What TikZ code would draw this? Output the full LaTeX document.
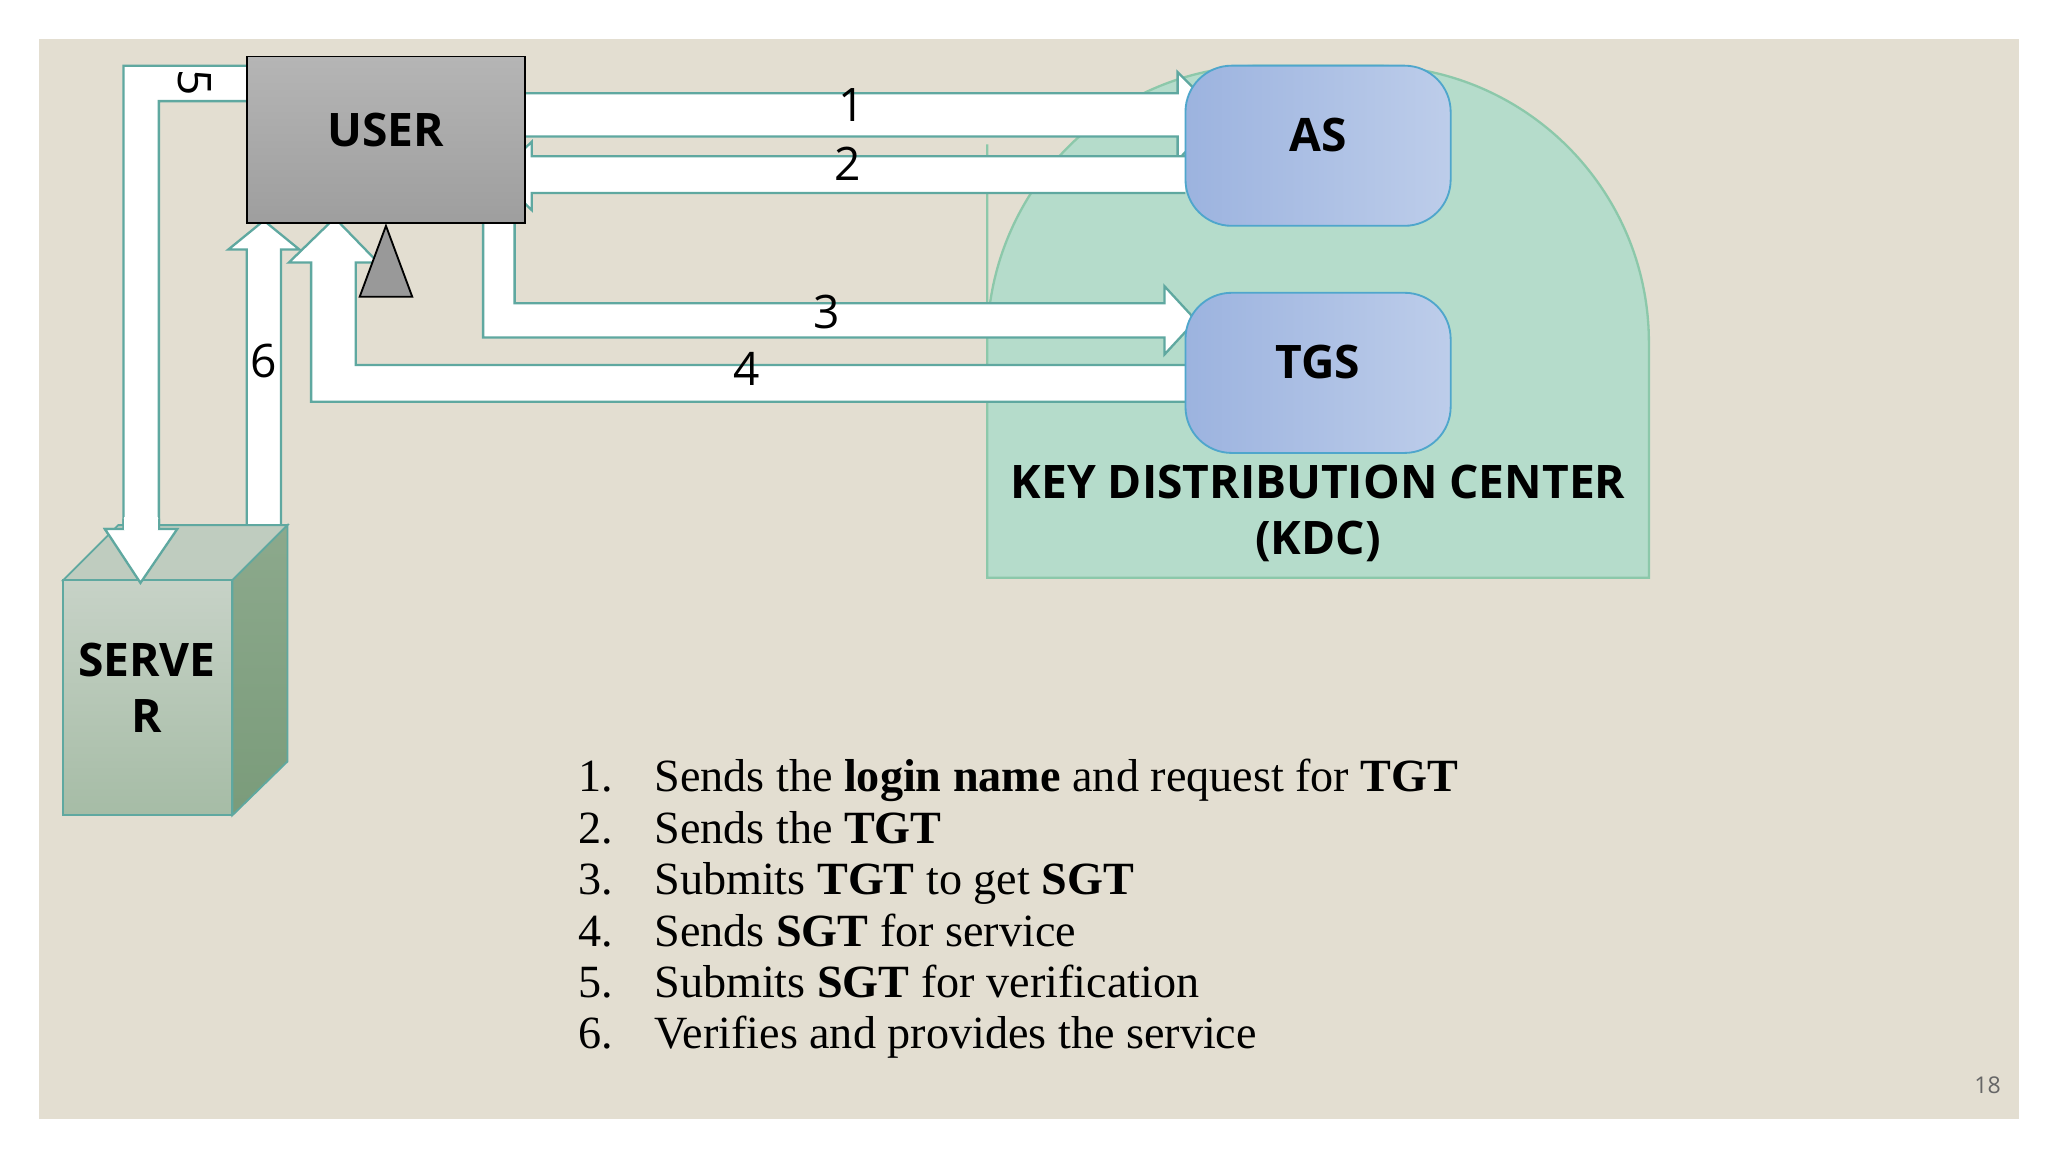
\documentclass[tikz,border=0pt]{standalone}
\usepackage{fontspec}
\setmainfont{Liberation Serif}
\newfontfamily\diagsf{Open Sans}
\begin{document}
\begin{tikzpicture}[x=0.01cm,y=-0.01cm,
  arr/.style={fill=white,draw=arrline,line width=0.5pt,line join=miter},
  lbl/.style={font=\diagsf\fontsize{10}{12}\selectfont},
  bx/.style={font=\diagsf\bfseries\fontsize{10}{12}\selectfont},
  item/.style={font=\fontsize{10}{12}\selectfont,anchor=base west}]
\definecolor{slide}{HTML}{E3DED1}
\definecolor{kdc}{HTML}{B5DCCB}
\definecolor{kdcb}{HTML}{8CC8AA}
\definecolor{arrline}{HTML}{5FA8A0}
\definecolor{bA}{HTML}{9CB3DF}
\definecolor{bB}{HTML}{BDCDEA}
\definecolor{bline}{HTML}{4FA6CC}
\useasboundingbox (0,0) rectangle (1560,877.5);
\fill[white] (0,0) rectangle (1560,877.5);
\fill[slide] (30,30) rectangle (1538,852);
% KDC
\filldraw[fill=kdc,draw=kdcb,line width=0.5pt] (752,440) -- (752,110) [rounded corners=60pt] -- (752,50) -- (1256,50) [sharp corners] -- (1256,440) -- cycle;
\node[bx,align=center] (kdc) at (1004,391) {KEY DISTRIBUTION CENTER\\(KDC)};
% arrows 1,2
\draw[arr] (400,71) -- (897,71) -- (897,55) -- (930,88) -- (897,122) -- (897,104) -- (400,104);
\draw[arr] (903,119) -- (405,119) -- (405,108) -- (378,134) -- (405,160) -- (405,147) -- (903,147);
% arrow 3
\draw[arr] (368,168) -- (368,257) -- (887,257) -- (887,270) -- (911,244) -- (887,218) -- (887,231) -- (392,231) -- (392,168);
% arrow 4
\draw[arr] (903,278) -- (271,278) -- (271,200) -- (288,200) -- (255,166) -- (220,200) -- (237,200) -- (237,306) -- (903,306);
% arrow 6
\draw[arr] (188,400) -- (188,190) -- (174,190) -- (201,168) -- (228,190) -- (214,190) -- (214,400);
% arrow 5
\draw[arr] (188,50) -- (94,50) -- (94,403) -- (80,403) -- (107,444) -- (135,403) -- (121,403) -- (121,77) -- (188,77);
% boxes
\shade[left color=bA,right color=bB,draw=bline,rounded corners=10pt] (903,50) rectangle (1105,172);
\shade[left color=bA,right color=bB,draw=bline,rounded corners=10pt] (903,223) rectangle (1105,345);
\node[bx] (asl) at (1004,103) {AS};
\node[bx] (tgs) at (1004,276) {TGS};
% user
\shade[top color=black!29,bottom color=black!38,draw=black,line width=0.4pt] (188,43) rectangle (400,170);
\node[bx] (user) at (294,99) {USER};
\filldraw[fill=black!40,draw=black,line width=0.4pt] (274,226) -- (294,172) -- (314,226) -- cycle;
% server
\filldraw[fill=green!20!black!25!white,draw=arrline,line width=0.4pt] (48,442) -- (90,400) -- (219,400) -- (177,442) -- cycle;
\shade[top color=green!20!black!22!white,bottom color=green!25!black!35!white,draw=arrline] (48,442) rectangle (177,621);
\shade[top color=green!25!black!45!white,bottom color=green!25!black!52!white,draw=arrline] (177,442) -- (219,400) -- (219,580) -- (177,621) -- cycle;
\node[bx,align=center] (server) at (112,524) {SERVE\\R};
% redraw arrow 5 head over cube top
\draw[arr] (94,395) -- (94,403) -- (80,403) -- (107,444) -- (135,403) -- (121,403) -- (121,395);
\fill[white] (94.5,394) rectangle (120.5,404);
% labels
\node[lbl] (l1) at (649,80) {1};
\node[lbl] (l2) at (646,125) {2};
\node[lbl] (l3) at (630,238) {3};
\node[lbl] (l4) at (569,281) {4};
\node[lbl] (l6) at (201,275) {6};
\node[lbl,rotate=-90] (l5) at (148,63) {5};
% list
\foreach \n/\t [count=\i] in {1/{Sends the \textbf{login name} and request for \textbf{TGT}},
  2/{Sends the \textbf{TGT}},3/{Submits \textbf{TGT} to get \textbf{SGT}},
  4/{Sends \textbf{SGT} for service},5/{Submits \textbf{SGT} for verification},
  6/{Verifies and provides the service}}{
  \node[item] (n\n) at (428,{594+9+39.2*(\i-1)}) {\n.};
  \node[item] (t\n) at (486,{594+9+39.2*(\i-1)}) {\t};
}
\node[font=\diagsf\fontsize{5}{6}\selectfont,text=black!60] (pg) at (1514,827) {18};
\end{tikzpicture}
\end{document}
